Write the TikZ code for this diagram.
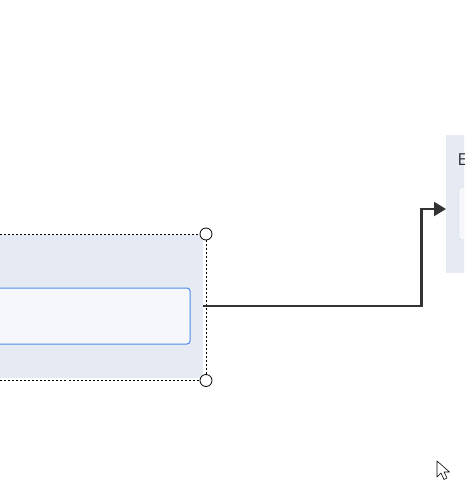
\documentclass[tikz,border=0pt]{standalone}
\usepackage{fontspec}
\setmainfont{Open Sans}
\usetikzlibrary{arrows.meta,calc}
\definecolor{groupfill}{HTML}{E6EAF3}
\definecolor{innerfill}{HTML}{F5F7FB}
\definecolor{selblue}{HTML}{4C8CE6}
\definecolor{lineclr}{HTML}{333333}
\definecolor{textclr}{HTML}{2B2F3A}
\definecolor{faintborder}{HTML}{D6DBE6}
\tikzset{
  groupbox/.style={fill=groupfill, draw=none, inner sep=0pt},
  innerbox/.style={fill=innerfill, rounded corners=3pt, inner sep=0pt},
  selrect/.style={draw=black, line width=0.8pt, dash pattern=on 2pt off 2pt},
  handle/.style={circle, draw=black, fill=white, line width=0.8pt, minimum size=12pt, inner sep=0pt},
  connector/.style={draw=lineclr, line width=2.2pt, -{Triangle[length=12pt,width=14pt]}},
}
\begin{document}
\begin{tikzpicture}[x=1pt,y=-1pt]
\useasboundingbox (0,0) rectangle (464,480);
\clip (0,0) rectangle (464,480);
\fill[white] (0,0) rectangle (464,480);
% left group
\node[groupbox, minimum width=240pt, minimum height=143pt, anchor=east] (src) at (203,306.5) {};
\node[innerbox, draw=selblue, line width=1pt, minimum width=220pt, minimum height=56pt, anchor=east] (srcin) at (190.5,316) {};
\draw[selrect] (-5,234) rectangle (206,380.5);
\node[handle] (h1) at (206,234) {};
\node[handle] (h2) at (206,380.5) {};
% right group
\node[groupbox, minimum width=40pt, minimum height=138pt, anchor=west] (dst) at (446,204) {};
\node[innerbox, draw=faintborder, line width=0.6pt, minimum width=30pt, minimum height=53pt, anchor=west] (dstin) at (458.5,213.5) {};
\node[anchor=base west, inner sep=0pt, font=\fontsize{16.5pt}{19pt}\selectfont, text=textclr] (lbl) at (457.5,165.5) {E};
% connector
\coordinate (bend) at (421.5,209);
\draw[connector] (src.east |- 0,306) -| (bend) -- (dst.west |- bend);
% cursor
\draw[black, fill=white, line width=0.6pt, line join=round]
  (437,461) -- (437,477) -- (441,473) -- (444,479.5) -- (447,478) -- (444,472) -- (449.5,472) -- cycle;
\end{tikzpicture}
\end{document}
